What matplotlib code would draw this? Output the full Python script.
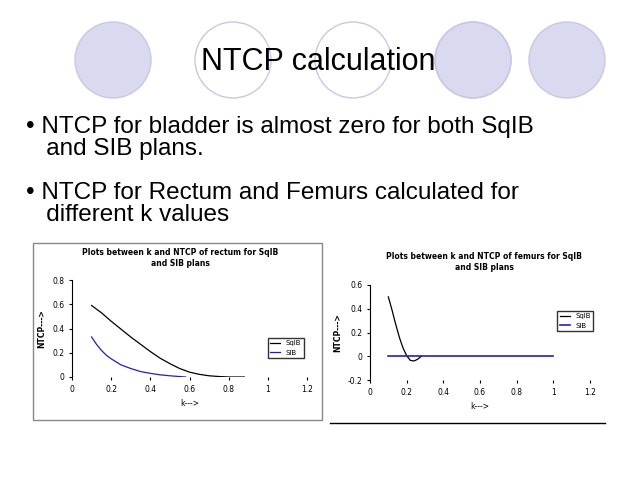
import matplotlib
matplotlib.use("Agg")
import matplotlib.pyplot as plt
from matplotlib.patches import Circle, Rectangle, FancyBboxPatch

k_rect_sqib = [0.1, 0.15, 0.2, 0.25, 0.3, 0.35, 0.4, 0.45, 0.5, 0.55, 0.6, 0.65, 0.7, 0.75, 0.8, 0.88]
ntcp_rect_sqib = [0.59, 0.53, 0.46, 0.395, 0.33, 0.27, 0.21, 0.155, 0.11, 0.07, 0.04, 0.022, 0.01, 0.004, 0.0, 0.0]
k_rect_sib = [0.1, 0.125, 0.15, 0.175, 0.2, 0.25, 0.3, 0.35, 0.4, 0.45, 0.5, 0.58]
ntcp_rect_sib = [0.33, 0.27, 0.22, 0.18, 0.15, 0.1, 0.07, 0.045, 0.03, 0.018, 0.01, 0.0]
k_fem_sqib = [0.1, 0.12, 0.14, 0.16, 0.18, 0.2, 0.22, 0.24, 0.26, 0.28]
ntcp_fem_sqib = [0.5, 0.39, 0.27, 0.16, 0.07, 0.005, -0.035, -0.04, -0.025, 0.0]
k_fem_sib = [0.1, 1.0]
ntcp_fem_sib = [0.0, 0.0]
xticks = [0, 0.2, 0.4, 0.6, 0.8, 1, 1.2]

W, H = 638, 478
fig = plt.figure(figsize=(W/100, H/100), dpi=100)
bg = fig.add_axes([0, 0, 1, 1]); bg.set_xlim(0, W); bg.set_ylim(H, 0); bg.axis("off")
for cx in [113, 473, 567]:
    bg.add_patch(Circle((cx, 60), 38, color="#d9d9f0", ec="#c8c8e6"))
for cx in [233, 353]:
    bg.add_patch(Circle((cx, 60), 38, fill=False, ec="#c8c8e6"))
bg.add_patch(Circle((473, 60), 38, fill=False, ec="#c8c8e6"))
bg.text(318, 62, "NTCP calculation", fontsize=22, ha="center", va="center", family="Liberation Sans")
bg.text(26, 138, "• NTCP for bladder is almost zero for both SqIB\n   and SIB plans.", fontsize=17.5,
        va="center", family="Liberation Sans", linespacing=1.05)
bg.text(26, 204, "• NTCP for Rectum and Femurs calculated for\n   different k values", fontsize=17.5,
        va="center", family="Liberation Sans", linespacing=1.05)
bg.add_patch(Rectangle((33, 243), 289, 177, fill=False, ec="#888", lw=1))
bg.plot([330, 605], [423, 423], color="k", lw=1)
bg.text(180, 258, "Plots between k and NTCP of rectum for SqIB\nand SIB plans", fontsize=5.5,
        ha="center", va="center", weight="bold")
bg.text(484, 262, "Plots between k and NTCP of femurs for SqIB\nand SIB plans", fontsize=5.5,
        ha="center", va="center", weight="bold")

def fx(px): return px / W
def fy(py): return 1 - py / H

a1 = fig.add_axes([fx(72), fy(377), fx(307-72), fy(280)-fy(377)])
a1.plot(k_rect_sqib, ntcp_rect_sqib, color="black", lw=0.9, label="SqIB")
a1.plot(k_rect_sib, ntcp_rect_sib, color="#2020c0", lw=0.9, label="SIB")
a1.set_xlim(0, 1.2); a1.set_ylim(0, 0.8)
a1.set_xticks(xticks); a1.set_yticks([0, 0.2, 0.4, 0.6, 0.8])
a1.set_yticklabels(["0", "0.2", "0.4", "0.6", "0.8"])
a1.set_xticklabels(["0", "0.2", "0.4", "0.6", "0.8", "1", "1.2"])
a1.set_xlabel("k--->", fontsize=5.5); a1.set_ylabel("NTCP--->", fontsize=5.5, weight="bold")
a1.legend(loc="center right", fontsize=5, frameon=True, fancybox=False, edgecolor="k",
          handlelength=1.5, borderpad=0.3, bbox_to_anchor=(1.0, 0.3))

a2 = fig.add_axes([fx(370), fy(380), fx(590-370), fy(285)-fy(380)])
a2.plot(k_fem_sqib, ntcp_fem_sqib, color="black", lw=0.9, label="SqIB")
a2.plot(k_fem_sib, ntcp_fem_sib, color="#2020c0", lw=1.2, label="SIB")
a2.set_xlim(0, 1.2); a2.set_ylim(-0.2, 0.6)
a2.set_xticks(xticks); a2.set_yticks([-0.2, 0, 0.2, 0.4, 0.6])
a2.set_yticklabels(["-0.2", "0", "0.2", "0.4", "0.6"])
a2.set_xticklabels(["0", "0.2", "0.4", "0.6", "0.8", "1", "1.2"])
a2.set_xlabel("k--->", fontsize=5.5); a2.set_ylabel("NTCP--->", fontsize=5.5, weight="bold")
a2.legend(loc="center right", fontsize=5, frameon=True, fancybox=False, edgecolor="k",
          handlelength=1.5, borderpad=0.3, bbox_to_anchor=(1.03, 0.62))

for a in (a1, a2):
    a.tick_params(labelsize=5.5, length=2)
    a.spines["top"].set_visible(False)
    a.spines["right"].set_visible(False)
    a.spines["bottom"].set_visible(False)
    a.patch.set_alpha(0)

fig.savefig("out.png", dpi=100)
